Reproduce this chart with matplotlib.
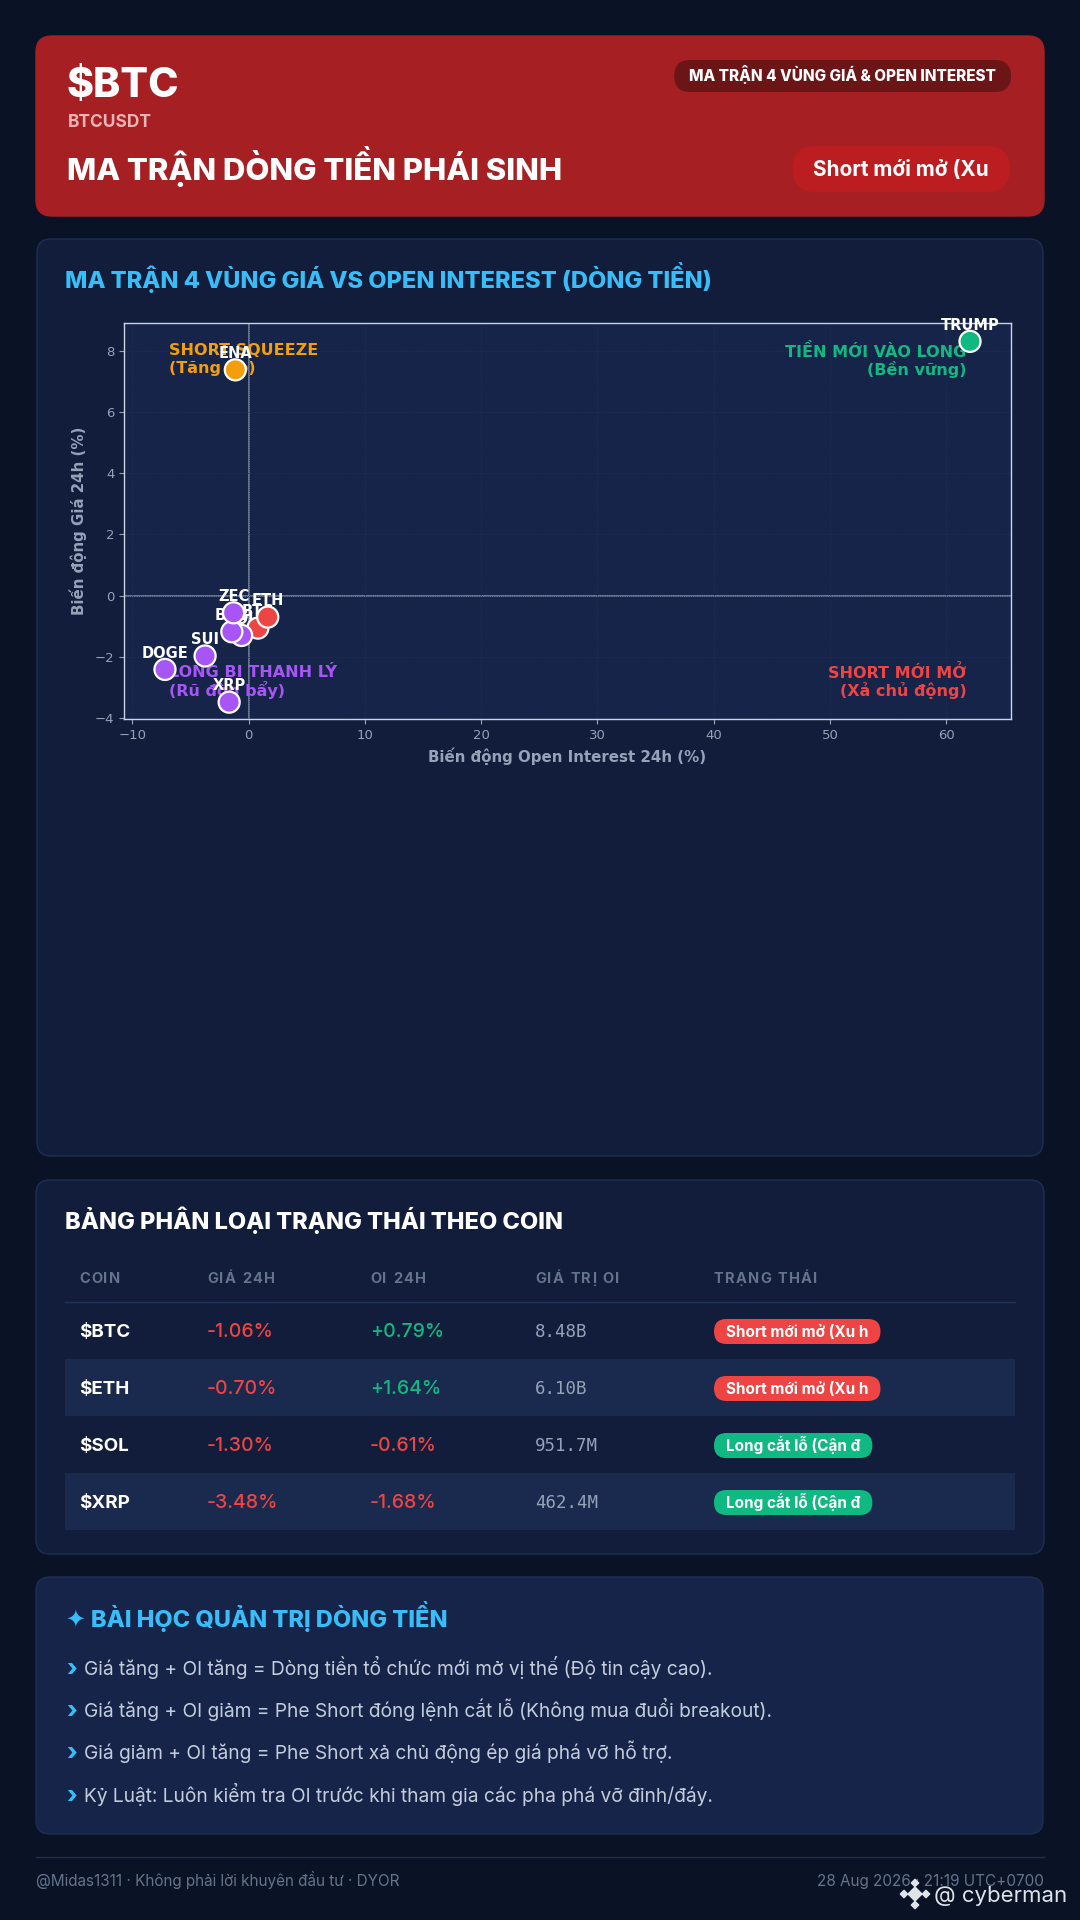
import matplotlib
matplotlib.use('Agg')
import matplotlib.pyplot as plt
from matplotlib.patches import FancyBboxPatch, Rectangle

# ---- data ----
coins = ['BTC', 'ETH', 'SOL', 'XRP', 'BNB', 'DOGE', 'SUI', 'ZEC', 'ENA', 'TRUMP']
oi_change = [0.79, 1.64, -0.61, -1.68, -1.45, -7.2, -3.75, -1.3, -1.15, 62.05]
price_change = [-1.06, -0.70, -1.30, -3.48, -1.18, -2.41, -1.97, -0.56, 7.38, 8.31]

table_coins = ['$BTC', '$ETH', '$SOL', '$XRP']
table_price = [-1.06, -0.70, -1.30, -3.48]
table_oi = [0.79, 1.64, -0.61, -1.68]
table_oi_value = ['8.48B', '6.10B', '951.7M', '462.4M']
table_status = ['Short mới mở (Xu h', 'Short mới mở (Xu h', 'Long cắt lỗ (Cận đ', 'Long cắt lỗ (Cận đ']
table_headers = ['COIN', 'GIÁ 24H', 'OI 24H', 'GIÁ TRỊ OI', 'TRẠNG THÁI']

lessons = [
    'Giá tăng + OI tăng = Dòng tiền tổ chức mới mở vị thế (Độ tin cậy cao).',
    'Giá tăng + OI giảm = Phe Short đóng lệnh cắt lỗ (Không mua đuổi breakout).',
    'Giá giảm + OI tăng = Phe Short xả chủ động ép giá phá vỡ hỗ trợ.',
    'Kỷ Luật: Luôn kiểm tra OI trước khi tham gia các pha phá vỡ đỉnh/đáy.',
]

# colours
BG = '#0a1226'
CARD = '#111d3a'
CARD2 = '#16244a'
BORDER = '#1f2e52'
RED = '#ef4444'
GREEN = '#10b981'
ORANGE = '#f59e0b'
PURPLE = '#a855f7'
CYAN = '#38bdf8'
MUTED = '#94a3b8'
DIM = '#64748b'
FONT = ['Inter', 'DejaVu Sans']

W, H = 1080, 1920
fig = plt.figure(figsize=(W / 100, H / 100), dpi=100, facecolor=BG)

# page layer in pixel coordinates (y down)
bg = fig.add_axes([0, 0, 1, 1])
bg.set_xlim(0, W)
bg.set_ylim(H, 0)
bg.axis('off')
bg.set_zorder(0)


def card(x0, y0, x1, y1, color, r=14, edge=BORDER):
    bg.add_patch(FancyBboxPatch((x0, y0), x1 - x0, y1 - y0,
                                boxstyle=f'round,pad=0,rounding_size={r}',
                                facecolor=color, edgecolor=edge, lw=1))


def txt(x, y, s, size, color='white', weight='normal', ha='left', family=FONT, **kw):
    return bg.text(x, y, s, fontsize=size, color=color, fontweight=weight,
                   ha=ha, va='baseline', family=family, **kw)


renderer = fig.canvas.get_renderer()


def text_width(t):
    return t.get_window_extent(renderer=renderer).width


def spaced(x, y, s, size, spacing, **kw):
    # letter-spaced label, one glyph at a time
    for ch in s:
        t = txt(x, y, ch, size, **kw)
        if ch == ' ':
            x += size * 0.38
        else:
            x += text_width(t)
        x += spacing


def pill(right, y0, y1, s, size, fill, pad, baseline, left=None, weight='bold'):
    t = txt(0, baseline, s, size, weight=weight)
    w = text_width(t) + 2 * pad
    x0 = left if left is not None else right - w
    t.set_x(x0 + pad)
    bg.add_patch(FancyBboxPatch((x0, y0), w, y1 - y0,
                                boxstyle=f'round,pad=0,rounding_size={(y1 - y0) / 2}',
                                facecolor=fill, edgecolor='none', zorder=1))
    t.set_zorder(2)


# ---- header ----
card(36, 36, 1044, 216, '#a61f23', r=16, edge='#a61f23')
txt(67, 97, '$BTC', 29.5, weight='heavy')
txt(68, 127, 'BTCUSDT', 12.5, color='#efb3b3', weight='bold')
txt(67, 180, 'MA TRẬN DÒNG TIỀN PHÁI SINH', 22.4, weight='heavy')
pill(1011, 60, 92, 'MA TRẬN 4 VÙNG GIÁ & OPEN INTEREST', 11, '#6c1517', 15, 81, weight='heavy')
pill(1010, 146, 192, 'Short mới mở (Xu', 15, '#bb1d20', 21, 176)

# ---- chart card ----
card(37, 239, 1043, 1156, CARD)
txt(65, 288, 'MA TRẬN 4 VÙNG GIÁ VS OPEN INTEREST (DÒNG TIỀN)', 17, color=CYAN, weight='heavy')

ax = fig.add_axes([124.3 / W, 1 - 719 / H, 886.4 / W, 396 / H])
ax.set_zorder(2)
ax.set_facecolor(CARD2)
for sp in ax.spines.values():
    sp.set_color('#cbd5e1')
    sp.set_linewidth(1.0)
ax.grid(True, color='#22325a', ls=':', lw=0.6, zorder=0)
ax.axhline(0, color=MUTED, lw=1.2, alpha=0.75, zorder=1)
ax.axvline(0, color=MUTED, lw=1.2, alpha=0.75, zorder=1)


def quad_color(x, y):
    if y >= 0:
        return GREEN if x >= 0 else ORANGE
    return RED if x >= 0 else PURPLE


colors = [quad_color(x, y) for x, y in zip(oi_change, price_change)]
ax.scatter(oi_change, price_change, s=230, c=colors, edgecolors='white',
           linewidths=1.6, zorder=4, clip_on=False)
for name, x, y in zip(coins, oi_change, price_change):
    ax.annotate(name, (x, y), xytext=(0, 8.5), textcoords='offset points',
                ha='center', va='baseline', fontsize=10.5, fontweight='bold',
                color='white', zorder=3, annotation_clip=False)

ax.set_xlim(min(oi_change) - 3.5, max(oi_change) + 3.5)
ax.set_ylim(min(price_change) - 0.55, max(price_change) + 0.6)

qkw = dict(transform=ax.transAxes, fontsize=11.5, fontweight='bold', linespacing=1.05, zorder=2)
ax.text(0.05, 0.95, 'SHORT SQUEEZE\n(Tăng ảo)', color=ORANGE, ha='left', va='top', **qkw)
ax.text(0.95, 0.95, 'TIỀN MỚI VÀO LONG\n(Bền vững)', color=GREEN, ha='right', va='top',
        multialignment='right', **qkw)
ax.text(0.05, 0.05, 'LONG BỊ THANH LÝ\n(Rũ đòn bẩy)', color=PURPLE, ha='left', va='bottom', **qkw)
ax.text(0.95, 0.05, 'SHORT MỚI MỞ\n(Xả chủ động)', color=RED, ha='right', va='bottom',
        multialignment='right', **qkw)

ax.tick_params(colors=MUTED, labelsize=9.5, length=3.5, width=0.8)
ax.set_xlabel('Biến động Open Interest 24h (%)', color=MUTED, fontsize=10.8, fontweight='bold')
ax.set_ylabel('Biến động Giá 24h (%)', color=MUTED, fontsize=10.8, fontweight='bold', labelpad=6)

# ---- table card ----
card(36, 1180, 1044, 1554, CARD)
txt(65, 1229, 'BẢNG PHÂN LOẠI TRẠNG THÁI THEO COIN', 17, weight='heavy')
col_x = [79, 207, 370, 535, 714]
for cx, h in zip(col_x, table_headers):
    spaced(cx, 1283, h, 10.5, 1.3, color=DIM, weight='bold')
bg.plot([65, 1015], [1302, 1302], color='#24355a', lw=1)

row_h = 57
for i in range(len(table_coins)):
    top = 1302 + i * row_h
    base = top + 35
    if i % 2 == 1:
        bg.add_patch(Rectangle((65, top), 950, row_h, facecolor='#1a2a4e', edgecolor='none'))
    txt(col_x[0], base, table_coins[i], 13.5, weight='bold')
    p = table_price[i]
    txt(col_x[1], base, f'{p:+.2f}%' if p > 0 else f'{p:.2f}%', 14,
        color=GREEN if p > 0 else RED, weight='medium')
    o = table_oi[i]
    txt(col_x[2], base, f'{o:+.2f}%' if o > 0 else f'{o:.2f}%', 14,
        color=GREEN if o > 0 else RED, weight='medium')
    txt(col_x[3], base, table_oi_value[i], 12.5, color=MUTED, family='DejaVu Sans Mono')
    fill = RED if table_status[i].startswith('Short') else GREEN
    pill(None, top + 17, top + 42, table_status[i], 11, fill, 12, base, left=714)

# ---- lessons card ----
card(36, 1577, 1043, 1834, CARD2)
txt(66, 1627, '✦ BÀI HỌC QUẢN TRỊ DÒNG TIỀN', 17, color=CYAN, weight='heavy')
for i, line in enumerate(lessons):
    base = 1675 + i * 42.2
    txt(66, base + 1, '›', 17, color=CYAN, weight='heavy')
    txt(84, base, line, 13.8, color='#c3cddb')

# ---- footer ----
bg.plot([36, 1044], [1857, 1857], color='#1e2d50', lw=1)
txt(36, 1886, '@Midas1311 · Không phải lời khuyên đầu tư · DYOR', 11, color=DIM)
txt(1044, 1886, '28 Aug 2026 · 21:19 UTC+0700', 11, color=DIM, ha='right')
bg.scatter([915, 904, 926, 915, 915], [1894, 1894, 1894, 1883, 1905],
           marker='D', s=[50, 14, 14, 14, 14], color='#dfe3ea', zorder=3)
txt(934, 1902, '@ cyberman', 16, color='#dfe3ea')

fig.savefig('out.png', dpi=100, facecolor=BG)
